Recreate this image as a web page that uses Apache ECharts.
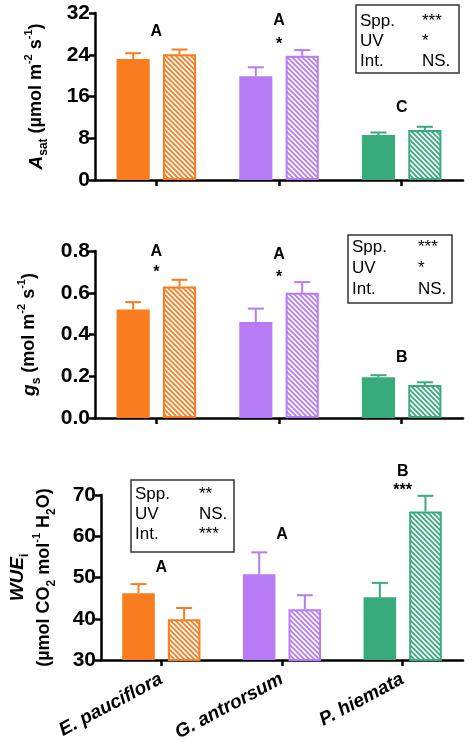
<!DOCTYPE html>
<html>
<head>
<meta charset="utf-8">
<script src="https://cdn.jsdelivr.net/npm/echarts@6/dist/echarts.min.js"></script>
<style>
  html, body { margin: 0; padding: 0; background: #fff; }
  #chart { width: 474px; height: 745px; }
</style>
</head>
<body>
<div id="chart"></div>
<script>
// species on the x axis
const categories = ['E. pauciflora', 'G. antrorsum', 'P. hiemata'];

// A_sat (umol m-2 s-1): solid = ambient, hatched = UV
const asatAmb = [23.2, 19.9, 8.6];
const asatAmbSE = [1.1, 1.7, 0.5];
const asatUV = [24.1, 23.8, 9.6];
const asatUVSE = [0.9, 1.1, 0.6];

// g_s (mol m-2 s-1)
const gsAmb = [0.52, 0.46, 0.195];
const gsAmbSE = [0.035, 0.064, 0.01];
const gsUV = [0.63, 0.60, 0.158];
const gsUVSE = [0.032, 0.051, 0.013];

// WUE_i (umol CO2 mol-1 H2O)
const wueAmb = [46.2, 50.8, 45.2];
const wueAmbSE = [2.2, 5.3, 3.5];
const wueUV = [39.9, 42.3, 66.0];
const wueUVSE = [2.7, 3.4, 3.8];

// letters / stars above the groups: [category index, y value, text]
const asatMarks = [[0, 28.4, 'A'], [1, 30.5, 'A'], [1, 25.9, '*'], [2, 13.8, 'C']];
const gsMarks = [[0, 0.797, 'A'], [0, 0.695, '*'], [1, 0.781, 'A'], [1, 0.675, '*'], [2, 0.289, 'B']];
const wueMarks = [[0, 52.5, 'A'], [1, 60.3, 'A'], [2, 75.6, 'B'], [2, 71.0, '***']];

// statistics boxes
const statRows = ['Spp.', 'UV', 'Int.'];
const asatStats = ['***', '*', 'NS.'];
const gsStats = ['***', '*', 'NS.'];
const wueStats = ['**', 'NS.', '***'];

const colors = ['#f97c1e', '#b77bf6', '#38aa7b'];
const FONT = "'Liberation Sans', Arial, Helvetica, sans-serif";
const BAR_W = 0.27, BAR_GAP = 0.4;

function makeHatch(color) {
  const s = 5;
  const c = document.createElement('canvas');
  c.width = s; c.height = s;
  const ctx = c.getContext('2d');
  ctx.fillStyle = '#fff';
  ctx.fillRect(0, 0, s, s);
  ctx.strokeStyle = color;
  ctx.lineWidth = 1.8;
  ctx.beginPath();
  ctx.moveTo(-s, -s); ctx.lineTo(2 * s, 2 * s);
  ctx.moveTo(-s, 0); ctx.lineTo(s, 2 * s);
  ctx.moveTo(0, -s); ctx.lineTo(2 * s, s);
  ctx.stroke();
  return c;
}
const hatches = colors.map(makeHatch);

const grids = [
  {left: 95, right: 11, top: 13, height: 167},
  {left: 95, right: 11, top: 251, height: 167},
  {left: 95, right: 11, top: 495, height: 165}
];

const sub = {fontSize: 12, fontWeight: 'bold', fontFamily: FONT, color: '#000', lineHeight: 12, verticalAlign: 'bottom'};
const sup = {fontSize: 11, fontWeight: 'bold', fontFamily: FONT, color: '#000', lineHeight: 12, verticalAlign: 'top'};
const nrm = {fontSize: 18, fontWeight: 'bold', fontFamily: FONT, color: '#000', lineHeight: 27};
const itl = {fontSize: 19, fontWeight: 'bold', fontStyle: 'italic', fontFamily: FONT, color: '#000', lineHeight: 27};
const rich = {sub, sup, n: nrm, it: itl};

const axisLine = {show: true, lineStyle: {color: '#000', width: 2.5}};
const axisTick = {show: true, length: 6, lineStyle: {color: '#000', width: 2.5}};

const yAxes = [
  {min: 0, max: 32, interval: 8, fmt: v => String(v), gap: 45,
   name: '{it|A}{sub|sat}{n| (µmol m}{sup|-2}{n| s}{sup|-1}{n|)}'},
  {min: 0, max: 0.8, interval: 0.2, fmt: v => v.toFixed(1), gap: 52,
   name: '{it|g}{sub|s}{n| (mol m}{sup|-2}{n| s}{sup|-1}{n|)}'},
  {min: 30, max: 70, interval: 10, fmt: v => String(v), gap: 43,
   name: '{it|WUE}{sub|i}\n{n|(µmol CO}{sub|2}{n| mol}{sup|-1}{n| H}{sub|2}{n|O)}'}
].map((a, i) => ({
  gridIndex: i, type: 'value', min: a.min, max: a.max, interval: a.interval,
  splitLine: {show: false}, axisLine, axisTick,
  axisLabel: {color: '#000', fontSize: 21, fontWeight: 'bold', fontFamily: FONT, margin: 5, formatter: a.fmt},
  name: a.name, nameLocation: 'middle', nameGap: a.gap, nameRotate: 90,
  nameTextStyle: {rich}
}));

const xAxes = [0, 1, 2].map(i => ({
  gridIndex: i, type: 'category', data: categories,
  axisLine, axisTick: Object.assign({alignWithLabel: true}, axisTick),
  axisLabel: i < 2 ? {show: false} : {
    color: '#000', fontSize: 19, fontWeight: 'bold', fontStyle: 'italic',
    fontFamily: FONT, rotate: 28, margin: 18, interval: 0
  }
}));

function barPair(i, amb, uv) {
  return [
    {type: 'bar', xAxisIndex: i, yAxisIndex: i, barWidth: (BAR_W * 100) + '%', barGap: (BAR_GAP * 100) + '%',
     data: amb.map((v, k) => ({value: v, itemStyle: {color: colors[k]}}))},
    {type: 'bar', xAxisIndex: i, yAxisIndex: i, barWidth: (BAR_W * 100) + '%', barGap: (BAR_GAP * 100) + '%',
     data: uv.map((v, k) => ({value: v, itemStyle: {
       color: {image: hatches[k], repeat: 'repeat'}, borderColor: colors[k], borderWidth: 2}}))}
  ];
}

function errorBars(i, amb, ambSE, uv, uvSE) {
  const data = [];
  amb.forEach((v, k) => data.push([k, v, v + ambSE[k], -1]));
  uv.forEach((v, k) => data.push([k, v, v + uvSE[k], 1]));
  return {
    type: 'custom', xAxisIndex: i, yAxisIndex: i, z: 3, data,
    renderItem: (params, api) => {
      const k = api.value(0);
      const bw = api.size([1, 0])[0];
      const off = api.value(3) * bw * BAR_W * (1 + BAR_GAP) / 2;
      const base = api.coord([k, api.value(1)]);
      const top = api.coord([k, api.value(2)]);
      const x = base[0] + off;
      const col = colors[k];
      return {type: 'group', children: [
        {type: 'line', shape: {x1: x, y1: base[1], x2: x, y2: top[1]}, style: {stroke: col, lineWidth: 2}},
        {type: 'line', shape: {x1: x - 8, y1: top[1], x2: x + 8, y2: top[1]}, style: {stroke: col, lineWidth: 2}}
      ]};
    }
  };
}

function marks(i, list) {
  return {
    type: 'custom', xAxisIndex: i, yAxisIndex: i, z: 4, clip: false, data: list,
    renderItem: (params, api) => {
      const p = api.coord([api.value(0), api.value(1)]);
      return {type: 'text', style: {
        text: list[params.dataIndex][2], x: p[0], y: p[1],
        align: 'center', verticalAlign: 'middle',
        font: 'bold 16px ' + FONT, fill: '#000'}};
    }
  };
}

function statBox(x, y, w, h, rowYs, colX, stats) {
  const els = [{type: 'rect', shape: {x, y, width: w, height: h},
    style: {fill: '#fff', stroke: '#333', lineWidth: 1.5}, z: 10}];
  statRows.forEach((r, k) => {
    els.push({type: 'text', z: 11, style: {text: r, x: x + 4, y: rowYs[k], verticalAlign: 'middle',
      font: '17px ' + FONT, fill: '#000'}});
    els.push({type: 'text', z: 11, style: {text: stats[k], x: colX, y: rowYs[k], verticalAlign: 'middle',
      font: '17px ' + FONT, fill: '#000'}});
  });
  return els;
}

const chart = echarts.init(document.getElementById('chart'), null, {renderer: 'canvas'});
chart.setOption({
  animation: false,
  backgroundColor: '#fff',
  grid: grids,
  xAxis: xAxes,
  yAxis: yAxes,
  series: [
    ...barPair(0, asatAmb, asatUV), errorBars(0, asatAmb, asatAmbSE, asatUV, asatUVSE), marks(0, asatMarks),
    ...barPair(1, gsAmb, gsUV), errorBars(1, gsAmb, gsAmbSE, gsUV, gsUVSE), marks(1, gsMarks),
    ...barPair(2, wueAmb, wueUV), errorBars(2, wueAmb, wueAmbSE, wueUV, wueUVSE), marks(2, wueMarks)
  ],
  graphic: [
    ...statBox(356, 5, 103, 68, [21, 41, 61], 422, asatStats),
    ...statBox(348, 235, 104, 68, [247, 268, 289], 418, gsStats),
    ...statBox(131, 480, 103, 72, [494, 514, 534], 199, wueStats)
  ]
});
</script>
</body>
</html>
